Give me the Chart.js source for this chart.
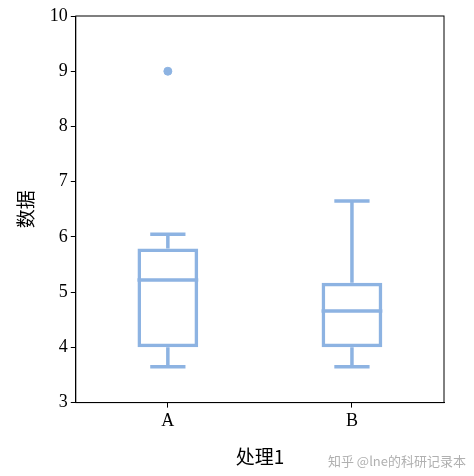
<!DOCTYPE html>
<html lang="zh">
<head>
    <meta charset="UTF-8">
    <title>Box plot</title>
    <script src="https://cdn.jsdelivr.net/npm/chart.js"></script>
    <style>
        body { margin: 0; background: #fff; }
        .wrap { position: relative; width: 474px; height: 476px; }
        .mark { position: absolute; right: 8px; bottom: 6px; font: 13px "Noto Sans CJK SC"; color: #b0b0b0; }
    </style>
</head>
<body>
    <div class="wrap">
        <canvas id="box" width="474" height="476"></canvas>
        <div class="mark">知乎 @lne的科研记录本</div>
    </div>

    <script>
        // Box plot data
        const groups = ['A', 'B'];
        const whiskerLow = [3.65, 3.65];
        const q1 = [4.0, 4.0];
        const median = [5.22, 4.66];
        const q3 = [5.79, 5.17];
        const whiskerHigh = [6.05, 6.65];
        const outliers = [{ x: 'A', y: 9.0 }];
        const yTicks = [3, 4, 5, 6, 7, 8, 9, 10];

        const blue = '#8DB3E2';

        // Whiskers, caps and medians drawn through the scales
        const boxParts = {
            id: 'boxParts',
            afterDatasetsDraw(chart) {
                const { ctx, scales: { x, y } } = chart;
                const bars = chart.getDatasetMeta(0).data;
                ctx.save();
                ctx.strokeStyle = blue;
                ctx.lineWidth = 3.5;
                groups.forEach((g, i) => {
                    const cx = x.getPixelForValue(i);
                    const half = bars[i].width / 2;
                    const cap = half * 0.58;
                    ctx.beginPath();
                    ctx.moveTo(cx - half, y.getPixelForValue(median[i]));
                    ctx.lineTo(cx + half, y.getPixelForValue(median[i]));
                    ctx.moveTo(cx, y.getPixelForValue(q3[i]));
                    ctx.lineTo(cx, y.getPixelForValue(whiskerHigh[i]));
                    ctx.moveTo(cx, y.getPixelForValue(q1[i]));
                    ctx.lineTo(cx, y.getPixelForValue(whiskerLow[i]));
                    ctx.moveTo(cx - cap, y.getPixelForValue(whiskerHigh[i]));
                    ctx.lineTo(cx + cap, y.getPixelForValue(whiskerHigh[i]));
                    ctx.moveTo(cx - cap, y.getPixelForValue(whiskerLow[i]));
                    ctx.lineTo(cx + cap, y.getPixelForValue(whiskerLow[i]));
                    ctx.stroke();
                });
                // frame around plot area
                const a = chart.chartArea;
                ctx.strokeStyle = '#000';
                ctx.lineWidth = 1;
                ctx.strokeRect(a.left, a.top, a.right - a.left, a.bottom - a.top);
                ctx.restore();
            }
        };

        const ctx = document.getElementById('box').getContext('2d');
        new Chart(ctx, {
            type: 'bar',
            data: {
                labels: groups,
                datasets: [{
                    label: 'box',
                    data: groups.map((g, i) => [q1[i], q3[i]]),
                    backgroundColor: 'rgba(0,0,0,0)',
                    borderColor: blue,
                    borderWidth: 3.5,
                    borderSkipped: false,
                    categoryPercentage: 1,
                    barPercentage: 0.33
                }, {
                    type: 'scatter',
                    label: 'outliers',
                    data: outliers,
                    backgroundColor: blue,
                    borderColor: blue,
                    pointRadius: 4
                }]
            },
            options: {
                responsive: false,
                animation: false,
                layout: { padding: { top: 16, right: 30, bottom: 4, left: 10 } },
                plugins: { legend: { display: false }, tooltip: { enabled: false } },
                scales: {
                    x: {
                        grid: { display: true, drawOnChartArea: false, tickLength: 5, color: '#000', offset: false },
                        border: { color: '#000' },
                        ticks: { color: '#000', font: { family: 'Liberation Serif', size: 18 } },
                        title: { display: true, text: '处理1', color: '#000', font: { family: 'Noto Sans CJK SC', size: 19 }, padding: { top: 10 } }
                    },
                    y: {
                        min: 3,
                        max: 10,
                        afterBuildTicks(axis) { axis.ticks = yTicks.map(v => ({ value: v })); },
                        grid: { drawOnChartArea: false, tickLength: 5, color: '#000' },
                        border: { color: '#000' },
                        ticks: { color: '#000', font: { family: 'Liberation Serif', size: 18 } },
                        title: { display: true, text: '数据', color: '#000', font: { family: 'Noto Sans CJK SC', size: 19 }, padding: { bottom: 10 } }
                    }
                }
            },
            plugins: [boxParts]
        });
    </script>
</body>
</html>
